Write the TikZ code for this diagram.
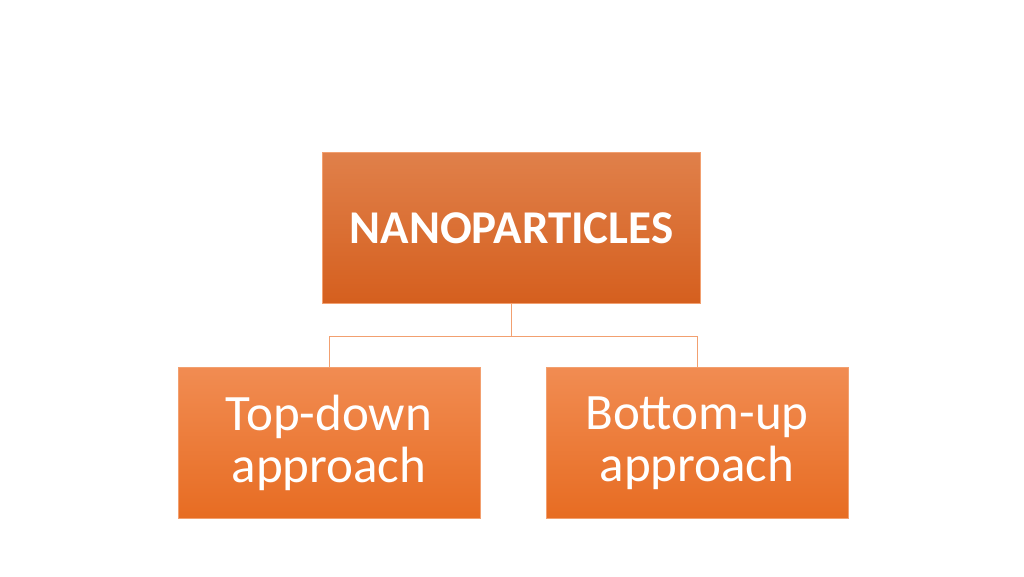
\documentclass[tikz,border=0pt]{standalone}
\usepackage{fontspec}
\setmainfont{Carlito}
\usetikzlibrary{positioning}
\definecolor{npTop}{RGB}{224,128,74}
\definecolor{npBot}{RGB}{213,95,30}
\definecolor{apTop}{RGB}{241,140,82}
\definecolor{apBot}{RGB}{231,108,34}
\definecolor{npLine}{RGB}{242,160,112}
\tikzstyle{rootbox}=[rectangle,draw=npLine,line width=1pt,top color=npTop,bottom color=npBot,minimum width=378pt,minimum height=151pt,inner sep=0pt,text=white,font=\fontsize{47}{50}\selectfont\bfseries]
\tikzstyle{leafbox}=[rectangle,draw=npLine,line width=1pt,top color=apTop,bottom color=apBot,minimum width=302pt,minimum height=151pt,inner sep=0pt,text=white,align=center,font=\fontsize{51}{52}\selectfont]
\tikzstyle{edge} = [draw,line width=1pt,npLine]

\begin{document}
\begin{tikzpicture}[x=1pt,y=1pt]

    \useasboundingbox (0,0) rectangle (1024,576);

    \node[rootbox] (np) at (511.5,347.5) {NANOPARTICLES};

    \foreach \x/\name/\txt in {329/td/{Top-down\\approach}, 697/bu/{Bottom-up\\approach}}
        \node[leafbox] (\name) at (\x,133) {\txt};

    \foreach \dest in {td, bu}
        \path[edge] (np.south) -- ++(0,-32) -| (\dest.north);

\end{tikzpicture}
\end{document}
